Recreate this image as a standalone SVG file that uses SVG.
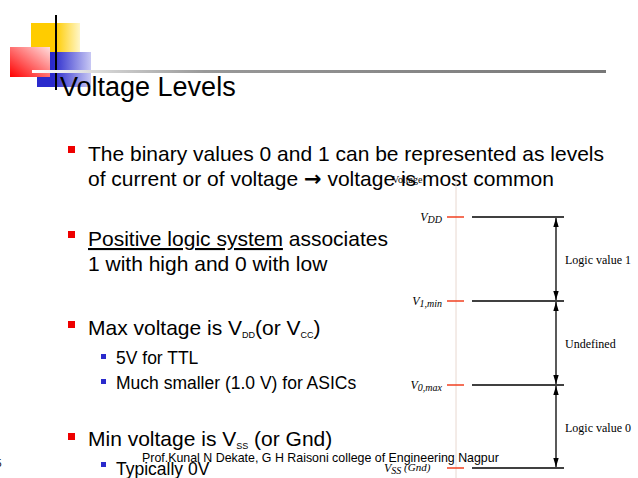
<svg xmlns="http://www.w3.org/2000/svg" width="638" height="478" viewBox="0 0 638 478">
<defs>
<style>
.t{font-family:"Liberation Sans",Arial,sans-serif;fill:#000}
.s{font-family:"Liberation Serif","Times New Roman",serif;fill:#000}
.lv{stroke:#000;stroke-width:1.5}
.tk{stroke:#f04020;stroke-width:1.5}
</style>
<linearGradient id="gy" x1="0" x2="1"><stop offset="0.5" stop-color="#ffcc00"/><stop offset="1" stop-color="#fff6c8"/></linearGradient>
<linearGradient id="gr" x1="0" y1="1" x2="1" y2="0"><stop offset="0" stop-color="#ff0000"/><stop offset="1" stop-color="#ffdede"/></linearGradient>
<linearGradient id="gb" x1="0" x2="1"><stop offset="0.3" stop-color="#2a2acc"/><stop offset="1" stop-color="#c8c8f4"/></linearGradient>
<marker id="ah" viewBox="0 0 10 10" refX="10" refY="5" markerWidth="7" markerHeight="7" orient="auto-start-reverse"><path d="M0,2 L10,5 L0,8 z" fill="#000"/></marker>
<linearGradient id="gl" x1="0" x2="1"><stop offset="0" stop-color="#fff"/><stop offset="0.3" stop-color="#999"/><stop offset="1" stop-color="#777"/></linearGradient>
</defs>
<g id="logo">
<rect x="31" y="23" width="49" height="30" fill="url(#gy)"/>
<rect x="37" y="52" width="54" height="35" fill="url(#gb)"/>
<rect x="10" y="47" width="40" height="30" fill="url(#gr)"/>
<line x1="56" y1="15" x2="56" y2="90" stroke="#000" stroke-width="2"/>
<rect x="32" y="70" width="574" height="3" fill="url(#gl)"/>
</g>
<text class="t" x="60" y="96" font-size="27">Voltage Levels</text>
<g id="bullets">
<rect x="68" y="146" width="7" height="7" fill="#e00"/>
<text class="t" x="88" y="161" font-size="21">The binary values 0 and 1 can be represented as levels</text>
<text class="t" x="88" y="186" font-size="21">of current or of voltage <tspan font-family="DejaVu Sans" font-weight="bold">→</tspan> voltage is most common</text>
<rect x="68" y="231" width="7" height="7" fill="#e00"/>
<text class="t" x="88" y="246" font-size="21"><tspan text-decoration="underline">Positive logic system</tspan> associates</text>
<text class="t" x="88" y="271" font-size="21">1 with high and 0 with low</text>
<rect x="68" y="321" width="7" height="7" fill="#e00"/>
<text class="t" x="88" y="335" font-size="21">Max voltage is V<tspan font-size="9" dy="3">DD</tspan><tspan dy="-3">(or V</tspan><tspan font-size="9" dy="3">CC</tspan><tspan dy="-3">)</tspan></text>
<rect x="101" y="354" width="5" height="5" fill="#2a2acc"/>
<text class="t" x="116" y="364" font-size="17.5">5V for TTL</text>
<rect x="101" y="379" width="5" height="5" fill="#2a2acc"/>
<text class="t" x="116" y="389" font-size="17.5">Much smaller (1.0 V) for ASICs</text>
<rect x="68" y="433" width="7" height="7" fill="#e00"/>
<text class="t" x="88" y="446" font-size="21">Min voltage is V<tspan font-size="9" dy="3">SS</tspan><tspan dy="-3"> (or Gnd)</tspan></text>
<rect x="101" y="462" width="5" height="5" fill="#2a2acc"/>
<text class="t" x="116" y="475" font-size="17.5">Typically 0V</text>
</g>
<g id="chart">
<line x1="456" y1="178" x2="456" y2="478" stroke="#e8d8d0" stroke-width="1"/>
<text class="s" x="392" y="183" font-size="10">Voltage</text>
<text class="s" x="442" y="221" font-size="12" font-style="italic" text-anchor="end">V<tspan font-size="10" dy="2">DD</tspan></text>
<text class="s" x="442" y="305" font-size="12" font-style="italic" text-anchor="end">V<tspan font-size="10" dy="2">1,min</tspan></text>
<text class="s" x="442" y="389" font-size="12" font-style="italic" text-anchor="end">V<tspan font-size="10" dy="2">0,max</tspan></text>
<text class="s" x="384" y="472" font-size="12" font-style="italic">V<tspan font-size="10" dy="2">SS</tspan><tspan font-size="11" dy="-3"> (Gnd)</tspan></text>
<line class="tk" x1="447" y1="217" x2="464" y2="217"/>
<line class="tk" x1="447" y1="301" x2="464" y2="301"/>
<line class="tk" x1="447" y1="385" x2="464" y2="385"/>
<line class="tk" x1="447" y1="468" x2="464" y2="468"/>
<line class="lv" x1="472" y1="217" x2="564" y2="217"/>
<line class="lv" x1="472" y1="301" x2="564" y2="301"/>
<line class="lv" x1="472" y1="385" x2="564" y2="385"/>
<line class="lv" x1="472" y1="468" x2="564" y2="468"/>
</g>
<g id="connectors" stroke="#000" stroke-width="1.3">
<line x1="556" y1="218" x2="556" y2="300" marker-start="url(#ah)" marker-end="url(#ah)"/>
<line x1="556" y1="302" x2="556" y2="384" marker-start="url(#ah)" marker-end="url(#ah)"/>
<line x1="556" y1="386" x2="556" y2="467" marker-start="url(#ah)" marker-end="url(#ah)"/>
</g>
<g class="s" font-size="12">
<text class="s" x="565" y="264">Logic value 1</text>
<text class="s" x="565" y="348">Undefined</text>
<text class="s" x="565" y="432">Logic value 0</text>
</g>
<text class="t" x="142" y="462" font-size="12.4">Prof.Kunal N Dekate, G H Raisoni college of Engineering Nagpur</text>
<text class="t" x="-4" y="467" font-size="10">5</text>
</svg>
